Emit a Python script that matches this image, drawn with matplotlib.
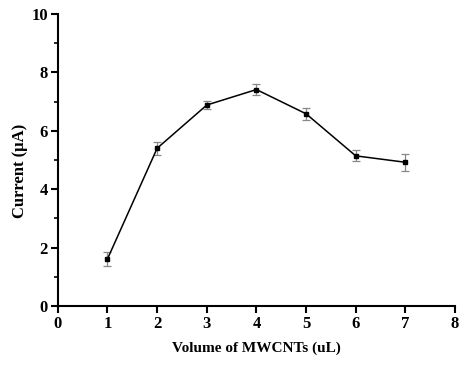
import matplotlib
matplotlib.use("Agg")
import matplotlib.pyplot as plt
from matplotlib.ticker import MultipleLocator

volume=[1,2,3,4,5,6,7]
current=[1.61,5.40,6.88,7.41,6.58,5.14,4.92]
err=[0.24,0.22,0.15,0.20,0.20,0.19,0.30]

plt.rcParams['font.family']=['Liberation Serif','DejaVu Serif']
plt.rcParams['font.weight']='bold'

fig=plt.figure(figsize=(4.74,3.66),dpi=100)
ax=fig.add_axes([0.122,0.164,0.838,0.798])
ax.errorbar(volume,current,yerr=err,color='black',lw=1.1,marker='s',ms=3.5,
            ecolor='#888888',elinewidth=0.9,capsize=3,capthick=0.9,zorder=3)
ax.set_xlim(0,8)
ax.set_ylim(0,10)
ax.xaxis.set_major_locator(MultipleLocator(1))
ax.yaxis.set_major_locator(MultipleLocator(2))
ax.yaxis.set_minor_locator(MultipleLocator(1))
for s in ['top','right']:
    ax.spines[s].set_visible(False)
for s in ['left','bottom']:
    ax.spines[s].set_linewidth(1.5)
ax.tick_params(which='major',direction='out',length=5,width=1.5,labelsize=12,pad=2)
ax.tick_params(which='minor',direction='out',length=3,width=1.2)
ax.set_xlabel("Volume of MWCNTs (uL)",fontsize=11,fontweight='bold')
ax.set_ylabel("Current (\u03bcA)",fontsize=12,fontweight='bold')
ax.xaxis.set_label_coords(0.5,-0.12)
ax.yaxis.set_label_coords(-0.075,0.462)
fig.savefig("out.png",dpi=100)
